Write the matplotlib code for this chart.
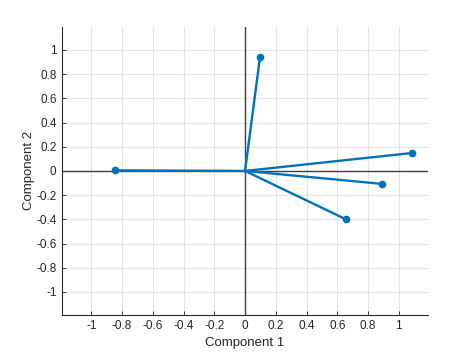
import numpy as np
import matplotlib
matplotlib.use("Agg")
import matplotlib.pyplot as plt

plt.rcParams["font.family"] = ["Liberation Sans", "DejaVu Sans"]

# loading vectors (component 1, component 2)
comp1 = [0.097, 1.084, 0.890, 0.656, -0.844]
comp2 = [0.940, 0.148, -0.107, -0.400, 0.005]
ticks = [-1, -0.8, -0.6, -0.4, -0.2, 0, 0.2, 0.4, 0.6, 0.8, 1]
tick_labels = ["-1", "-0.8", "-0.6", "-0.4", "-0.2", "0", "0.2", "0.4", "0.6", "0.8", "1"]

blue = "#0072BD"

fig = plt.figure(figsize=(4.74, 3.55), dpi=100)
ax = fig.add_axes([0.131, 0.113, 0.772, 0.811])

lim = 1.19
ax.axhline(0, color="#404040", lw=1.0, zorder=1)
ax.axvline(0, color="#404040", lw=1.0, zorder=1)

for x, y in zip(comp1, comp2):
    ax.plot([0, x], [0, y], color=blue, lw=1.7, zorder=3)
ax.plot(comp1, comp2, "o", color=blue, ms=4.5, zorder=4)

ax.set_xlim(-lim, lim)
ax.set_ylim(-lim, lim)
ax.set_xticks(ticks)
ax.set_xticklabels(tick_labels)
ax.set_yticks(ticks)
ax.set_yticklabels(tick_labels)
ax.grid(True, color="#e3e3e3", lw=0.8, zorder=0)
ax.set_axisbelow(True)

for s in ["top", "right"]:
    ax.spines[s].set_visible(False)
for s in ["left", "bottom"]:
    ax.spines[s].set_color("#262626")
    ax.spines[s].set_linewidth(0.8)

ax.tick_params(labelsize=8.5, colors="#262626", length=3, width=0.6, direction="in", pad=4)
ax.set_xlabel("Component 1", fontsize=9.5, color="#262626", labelpad=3)
ax.set_ylabel("Component 2", fontsize=9.5, color="#262626", labelpad=0.5)

fig.savefig("out.png", dpi=100)
